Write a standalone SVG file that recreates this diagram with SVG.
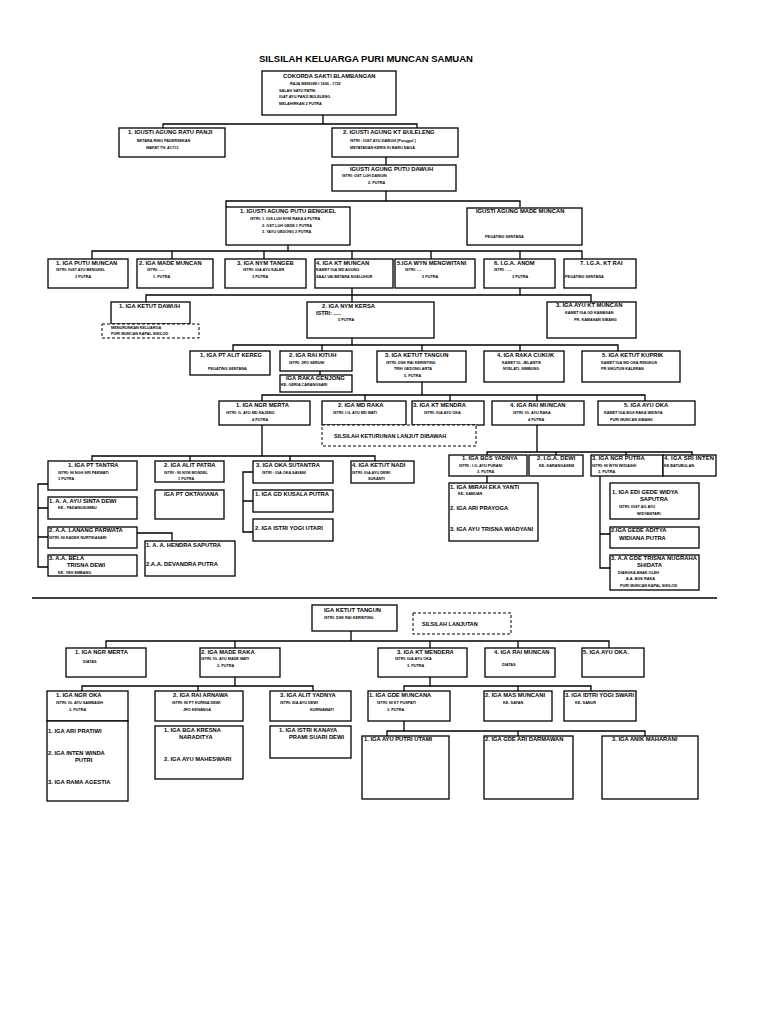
<svg xmlns="http://www.w3.org/2000/svg" width="768" height="1024" viewBox="0 0 768 1024">
<style>
rect{fill:#fff;stroke:#000;stroke-width:1.3}
.d{stroke-dasharray:3,2;stroke-width:1}
#c path{fill:none;stroke:#000;stroke-width:1.3}
text{font-family:"Liberation Sans",Arial,sans-serif;fill:#000}
.h{font-size:5.8px;font-weight:bold}
.s{font-size:3.8px;font-weight:bold}
.m{font-size:5.5px;font-weight:bold}
</style>
<rect x="0" y="0" width="768" height="1024" style="stroke:none"/>
<text x="366" y="62" text-anchor="middle" style="font-size:9.5px;font-weight:bold">SILSILAH KELUARGA PURI MUNCAN SAMUAN</text>
<g id="c">
<path d="M323 115V124M163 128V124H417V128M386 157V165M386 191V201M226 207V201H520V207"/>
<path d="M288 245V251M92 259V251H582V259M172 251V259M264 251V259M352 251V259M431 251V259M520 251V259"/>
<path d="M520 288V295M146 302V295H591V302M352 288V302"/>
<path d="M352 338V345M233 351V345H618V351M322 345V351M422 345V351M520 345V351M320 371V375"/>
<path d="M422 382V395M262 401V395H645V401M365 395V401M450 395V401M537 395V401"/>
<path d="M262 425V456M92 461V456H375V461M190 456V461M290 456V461"/>
<path d="M48 484H38V567H48M38 508H48M38 537H48M137 533H172V541M253 472H243V532H253M243 501H253"/>
<path d="M537 425V452M487 455V452H692V455M556 452V455M626 452V455M487 476V483M600 476V568H610M600 534H610"/>
<path d="M32 598H717"/>
<path d="M351 631V641M106 648V641H609V648M235 641V648M430 641V648M518 641V648"/>
<path d="M235 677V686M82 691V686H313V691M198 686V691M430 677V686M404 691V686H591V691M518 686V691"/>
<path d="M404 721V731M387 736V731H645V736M518 731V736"/>
</g>
<g id="n0"><rect x="262" y="71" width="134" height="44"/><text x="283" y="78" class="h">COKORDA SAKTI BLAMBANGAN</text><text x="290" y="85" class="s">RAJA MENGWI I  1690 - 1722</text><text x="279" y="92" class="s">SALAH SATU PATNI:</text><text x="279" y="98" class="s">IGAT AYU PANJI BULELENG</text><text x="279" y="105" class="s">MELAHIRKAN  2 PUTRA</text></g>
<g id="n1"><rect x="119" y="128" width="106" height="29"/><text x="128" y="134" class="h">1. IGUSTI AGUNG RATU PANJI</text><text x="137" y="142" class="s">BETARA RING PADERSEKAN</text><text x="146" y="149" class="s">WAFAT  TH. A1713</text></g>
<g id="n2"><rect x="332" y="128" width="126" height="29"/><text x="343" y="134" class="h">2. IGUSTI AGUNG KT BULELENG</text><text x="350" y="142" class="s">ISTRI : IGST AYU DAWUH (Punggul )</text><text x="350" y="149" class="s">METATADAN KERIS KI BARU NAGA</text></g>
<g id="n3"><rect x="332" y="165" width="124" height="26"/><text x="350" y="171" class="h">IGUSTI  AGUNG PUTU DAWUH</text><text x="342" y="177" class="s">ISTRI:  GST LUH DANGIN</text><text x="368" y="184" class="s">2. PUTRA</text></g>
<g id="n4"><rect x="226" y="207" width="124" height="38"/><text x="240" y="213" class="h">1. IGUSTI AGUNG PUTU BENGKEL</text><text x="250" y="220" class="s">ISTRI: 1. IGS LUH NYM RAKA     4 PUTRA</text><text x="262" y="227" class="s">2. GST LUH GEDE              1 PUTRA</text><text x="262" y="233" class="s">3. YAYU GEDONG               2 PUTRA</text></g>
<g id="n5"><rect x="467" y="208" width="115" height="37"/><text x="476" y="213" class="h">IGUSTI AGUNG MADE MUNCAN</text><text x="485" y="238" class="s">PEGATING SENTANA</text></g>
<g id="r1"><rect x="48" y="259" width="80" height="29"/><text x="56" y="265" class="h">1. IGA PUTU MUNCAN</text><text x="56" y="271" class="s">ISTRI: IGST AYU BENGKEL</text><text x="75" y="278" class="s">3 PUTRA</text></g>
<g id="r2"><rect x="137" y="259" width="76" height="29"/><text x="139" y="265" class="h">2.  IGA MADE MUNCAN</text><text x="147" y="271" class="s">ISTRI: .....</text><text x="153" y="278" class="s">1. PUTRA</text></g>
<g id="r3"><rect x="225" y="259" width="81" height="29"/><text x="237" y="265" class="h">3. IGA NYM TANGEB</text><text x="243" y="271" class="s">ISTRI: IGA AYU KALER</text><text x="252" y="278" class="s">3 PUTRA</text></g>
<g id="r4"><rect x="315" y="259" width="78" height="29"/><text x="316" y="265" class="h">4. IGA KT MUNCAN</text><text x="316" y="271" class="s">KAMET IGA MD AGUNG</text><text x="316" y="278" class="s">SAAJ VAI BETARA NGELUHUR</text></g>
<g id="r5"><rect x="395" y="259" width="80" height="29"/><text x="397" y="265" class="h">5.IGA WYN MENGWITANI</text><text x="405" y="271" class="s">ISTRI: ....</text><text x="422" y="278" class="s">2 PUTRA</text></g>
<g id="r6"><rect x="484" y="259" width="71" height="29"/><text x="494" y="265" class="h">6. I.G.A.   ANOM</text><text x="494" y="271" class="s">ISTRI : ....</text><text x="512" y="278" class="s">3 PUTRA</text></g>
<g id="r7"><rect x="564" y="259" width="72" height="29"/><text x="580" y="265" class="h">7. I.G.A. KT RAI</text><text x="565" y="278" class="s">PEGATING SENTANA</text></g>
<g id="g1"><rect x="111" y="302" width="79" height="22"/><text x="119" y="308" class="h">1. IGA KETUT DAWUH</text><rect x="102" y="324" width="97" height="14" class="d"/><text x="111" y="329" class="s">MENURUNKAN KELUARGA</text><text x="111" y="335" class="s">PURI MUNCAN KAPAL SIKILOD</text></g>
<g id="g2"><rect x="307" y="302" width="127" height="36"/><text x="322" y="308" class="h">2. IGA NYM KERSA</text><text x="316" y="315" class="m">ISTRI: .....</text><text x="338" y="321" class="s">5 PUTRA</text></g>
<g id="g3"><rect x="547" y="302" width="89" height="36"/><text x="556" y="307" class="h">3. IGA AYU KT MUNCAN</text><text x="565" y="314" class="s">KAMET IGA GD KAMASAN</text><text x="574" y="321" class="s">PR. KAMASAN SIBANG</text></g>
<g id="k1"><rect x="190" y="351" width="80" height="24"/><text x="200" y="357" class="h">1, IGA PT ALIT KEREG</text><text x="208" y="370" class="s">PEGATING SENTANA</text></g>
<g id="k2"><rect x="280" y="351" width="72" height="20"/><text x="289" y="357" class="h">2. IGA RAI KITUH</text><text x="289" y="364" class="s">ISTRI: JRO SERUNI</text><rect x="280" y="375" width="72" height="17"/><text x="286" y="380" class="h">IGA RAKA GENJONG</text><text x="281" y="386" class="s">KE- GERIA CARANGSARI</text></g>
<g id="k3"><rect x="377" y="351" width="89" height="31"/><text x="385" y="357" class="h">3. IGA KETUT TANGUN</text><text x="386" y="364" class="s">ISTRI: DSK RAI KERINTING</text><text x="394" y="370" class="s">TRIH GEDONG ARTA</text><text x="404" y="377" class="s">5. PUTRA</text></g>
<g id="k4"><rect x="484" y="351" width="80" height="31"/><text x="497" y="357" class="h">4. IGA RAKA CUKUK</text><text x="502" y="364" class="s">KAMET IG. JELANTIK</text><text x="503" y="370" class="s">NYELATI- SIMBUNG</text></g>
<g id="k5"><rect x="582" y="351" width="98" height="31"/><text x="602" y="357" class="h">5. IGA KETUT KUPRIK</text><text x="601" y="364" class="s">KAMET IGA MD OKA RINGKUS</text><text x="601" y="370" class="s">PR SIKUTUN KALERAN</text></g>
<g id="m1"><rect x="219" y="401" width="91" height="24"/><text x="236" y="407" class="h">1. IGA NGR MERTA</text><text x="226" y="414" class="s">ISTRI: G. AYU MD KAJENG</text><text x="252" y="421" class="s">4 PUTRA</text></g>
<g id="m2"><rect x="322" y="401" width="84" height="24"/><text x="338" y="407" class="h">2. IGA MD RAKA</text><text x="333" y="414" class="s">ISTRI: I.G. AYU MD WATI</text></g>
<g id="m3"><rect x="412" y="401" width="72" height="24"/><text x="413" y="407" class="h">3. IGA KT MENDRA</text><text x="424" y="414" class="s">ISTRI: IGA AYU OKA</text></g>
<g id="m4"><rect x="492" y="401" width="92" height="24"/><text x="510" y="407" class="h">4. IGA RAI MUNCAN</text><text x="513" y="414" class="s">ISTRI: IG. AYU RAKA</text><text x="528" y="421" class="s">4 PUTRA</text></g>
<g id="m5"><rect x="598" y="401" width="97" height="24"/><text x="624" y="407" class="h">5. IGA AYU OKA</text><text x="604" y="414" class="s">KAMET IGA BGS RAKA WIDNYA</text><text x="610" y="421" class="s">PURI MUNCAN SIBANG</text></g>
<g id="dl1"><rect x="322" y="425" width="154" height="21" class="d"/><text x="334" y="438" class="m">SILSILAH KETURUNAN  LANJUT DIBAWAH</text></g>
<g id="p1"><rect x="48" y="461" width="89" height="29"/><text x="68" y="467" class="h">1. IGA PT TANTRA</text><text x="58" y="474" class="s">ISTRI: NI NGH SRI PARWATI</text><text x="58" y="480" class="s">3 PUTRA</text></g>
<g id="p2"><rect x="155" y="461" width="69" height="21"/><text x="164" y="467" class="h">2. IGA ALIT PATRA</text><text x="164" y="474" class="s">ISTRI : NI NYM MONDEL</text><text x="178" y="480" class="s">1 PUTRA</text></g>
<g id="p3"><rect x="253" y="461" width="80" height="22"/><text x="256" y="467" class="h">3. IGA OKA SUTANTRA</text><text x="262" y="474" class="s">ISTRI : IGA OKA SAYANI</text></g>
<g id="p4"><rect x="351" y="461" width="63" height="22"/><text x="352" y="467" class="h">4. IGA KETUT  NADI</text><text x="352" y="474" class="s">ISTRI: IGA AYU DEWI</text><text x="368" y="480" class="s">SUKANTI</text></g>
<g id="q1"><rect x="48" y="497" width="89" height="22"/><text x="49" y="503" class="h">1. A. A. AYU SINTA DEWI</text><text x="58" y="509" class="s">KE - PADANGSUMBU</text></g>
<g id="q2"><rect x="48" y="527" width="89" height="21"/><text x="49" y="532" class="h">2. A.A. LANANG PARWATA</text><text x="49" y="539" class="s">ISTRI: NI KADEK NURTIKASARI</text></g>
<g id="q3"><rect x="48" y="555" width="89" height="21"/><text x="49" y="560" class="h">3. A.A. BELA</text><text x="67" y="567" class="h">TRISNA DEWI</text><text x="58" y="574" class="s">KE- YEH EMBANG</text></g>
<g id="q4"><rect x="145" y="541" width="90" height="35"/><text x="146" y="547" class="h">1. A. A. HENDRA SAPUTRA</text><text x="146" y="566" class="h">2.A.A. DEVANDRA PUTRA</text></g>
<g id="q5"><rect x="155" y="490" width="69" height="29"/><text x="164" y="496" class="h">IGA PT OKTAVIANA</text></g>
<g id="q6"><rect x="253" y="490" width="80" height="22"/><text x="255" y="496" class="h">1. IGA GD KUSALA PUTRA</text></g>
<g id="q7"><rect x="253" y="519" width="80" height="22"/><text x="255" y="530" class="h">2. IGA ISTRI YOGI UTARI</text></g>
<g id="u1"><rect x="449" y="455" width="78" height="21"/><text x="462" y="460" class="h">1. IGA BGS YADNYA</text><text x="459" y="467" class="s">ISTRI : I.G. AYU PURANI</text><text x="477" y="473" class="s">3. PUTRA</text></g>
<g id="u2"><rect x="529" y="455" width="54" height="21"/><text x="537" y="460" class="h">2. I.G.A. DEWI</text><text x="539" y="467" class="s">KE- KARANGASEM</text></g>
<g id="u3"><rect x="591" y="455" width="72" height="21"/><text x="592" y="460" class="h">3. IGA NGR PUTRA</text><text x="592" y="467" class="s">ISTRI: NI WYN WIDIASIH</text><text x="598" y="473" class="s">3. PUTRA</text></g>
<g id="u4"><rect x="663" y="455" width="53" height="21"/><text x="664" y="460" class="h" textLength="50">4. IGA SRI INTEN</text><text x="664" y="467" class="s">KE BATUBULAN</text></g>
<g id="u5"><rect x="449" y="483" width="89" height="58"/><text x="450" y="489" class="h">1. IGA MIRAH EKA YANTI</text><text x="458" y="495" class="s">KE- SAMUAN</text><text x="450" y="510" class="h">2. IGA ARI PRAYOGA</text><text x="450" y="531" class="h">3. IGA AYU TRISNA WIADYANI</text></g>
<g id="u6"><rect x="610" y="483" width="89" height="36"/><text x="612" y="494" class="h">1. IGA EDI GEDE WIDYA</text><text x="640" y="501" class="h">SAPUTRA</text><text x="619" y="508" class="s">ISTRI: IGST AG AYU</text><text x="637" y="515" class="s">WIDYANTARI</text></g>
<g id="u7"><rect x="610" y="527" width="89" height="21"/><text x="611" y="532" class="h">2.IGA GEDE ADITYA</text><text x="619" y="540" class="h">WIDIANA PUTRA</text></g>
<g id="u8"><rect x="610" y="555" width="89" height="35"/><text x="611" y="560" class="h" textLength="86">3. A.A GDE TRISNA NUGRAHA</text><text x="637" y="567" class="h">SHIDATA</text><text x="618" y="574" class="s">DIANGKA ANAK OLEH</text><text x="626" y="580" class="s">A.A. BGS RAKA</text><text x="620" y="587" class="s">PURI MUNCAN KAPAL SIKILOD</text></g>
<g id="b0"><rect x="312" y="605" width="85" height="26"/><text x="324" y="612" class="h">IGA KETUT TANGUN</text><text x="324" y="619" class="s">ISTRI: DSK RAI KERINTING</text><rect x="413" y="613" width="98" height="21" class="d"/><text x="422" y="626" class="m">SILSILAH  LANJUTAN</text></g>
<g id="b1"><rect x="66" y="648" width="80" height="29"/><text x="75" y="654" class="h">1. IGA NGR MERTA</text><text x="83" y="663" class="s">DIATAS</text></g>
<g id="b2"><rect x="200" y="648" width="80" height="29"/><text x="201" y="654" class="h">2. IGA MADE RAKA</text><text x="201" y="660" class="s">ISTRI: IG. AYU MADE WATI</text><text x="217" y="667" class="s">3. PUTRA</text></g>
<g id="b3"><rect x="378" y="648" width="89" height="29"/><text x="397" y="654" class="h">3. IGA KT MENDERA</text><text x="395" y="660" class="s">ISTRI: IGA AYU OKA</text><text x="407" y="667" class="s">3. PUTRA</text></g>
<g id="b4"><rect x="485" y="648" width="70" height="29"/><text x="494" y="654" class="h">4. IGA RAI MUNCAN</text><text x="502" y="666" class="s">DIATAS</text></g>
<g id="b5"><rect x="582" y="648" width="62" height="29"/><text x="583" y="654" class="h">5. IGA AYU  OKA.</text></g>
<g id="c1"><rect x="47" y="691" width="81" height="30"/><text x="56" y="697" class="h">1. IGA NGR OKA</text><text x="56" y="704" class="s">ISTRI: IG. AYU SAMBASIH</text><text x="69" y="711" class="s">3. PUTRA</text></g>
<g id="c2"><rect x="155" y="691" width="88" height="30"/><text x="173" y="697" class="h">2. IGA RAI ARNAWA</text><text x="172" y="704" class="s">ISTRI: NI PT KURNIA DEWI</text><text x="183" y="711" class="s">JRO KENANGA</text></g>
<g id="c3"><rect x="270" y="691" width="81" height="30"/><text x="280" y="697" class="h">3. IGA ALIT YADNYA</text><text x="280" y="704" class="s">ISTRI: IDA AYU DEWI</text><text x="310" y="711" class="s">KURNIAWATI</text></g>
<g id="c4"><rect x="47" y="721" width="81" height="80"/><text x="48" y="733" class="h">1. IGA ARI PRATIWI</text><text x="48" y="755" class="h">2. IGA INTEN WINDA</text><text x="75" y="762" class="h">PUTRI</text><text x="48" y="784" class="h">3. IGA RAMA AGESTIA</text></g>
<g id="c5"><rect x="155" y="726" width="88" height="53"/><text x="164" y="732" class="h">1. IGA BGA KRESNA</text><text x="179" y="739" class="h">NARADITYA</text><text x="164" y="761" class="h">2. IGA AYU MAHESWARI</text></g>
<g id="c6"><rect x="270" y="726" width="81" height="32"/><text x="279" y="732" class="h">1. IGA ISTRI KANAYA</text><text x="289" y="739" class="h">PRAMI SUARI DEWI</text></g>
<g id="c7"><rect x="368" y="691" width="82" height="30"/><text x="369" y="697" class="h">1. IGA GDE MUNCANA</text><text x="377" y="704" class="s">ISTRI: NI KT PUSPATI</text><text x="387" y="711" class="s">3. PUTRA</text></g>
<g id="c8"><rect x="484" y="691" width="68" height="30"/><text x="485" y="697" class="h">2. IGA  MAS MUNCANI</text><text x="503" y="704" class="s">KE- SAYAN</text></g>
<g id="c9"><rect x="564" y="691" width="72" height="30"/><text x="565" y="697" class="h" textLength="69">3. IGA IDTRI YOGI SWARI</text><text x="575" y="704" class="s">KE- SANUR</text></g>
<g id="e1"><rect x="362" y="736" width="87" height="63"/><text x="364" y="741" class="h">1. IGA AYU PUTRI UTAMI</text></g>
<g id="e2"><rect x="484" y="736" width="89" height="63"/><text x="485" y="741" class="h">2. IGA GDE ARI DARMAWAN</text></g>
<g id="e3"><rect x="602" y="736" width="96" height="63"/><text x="612" y="741" class="h">3. IGA ANIK MAHARANI</text></g>
</svg>
